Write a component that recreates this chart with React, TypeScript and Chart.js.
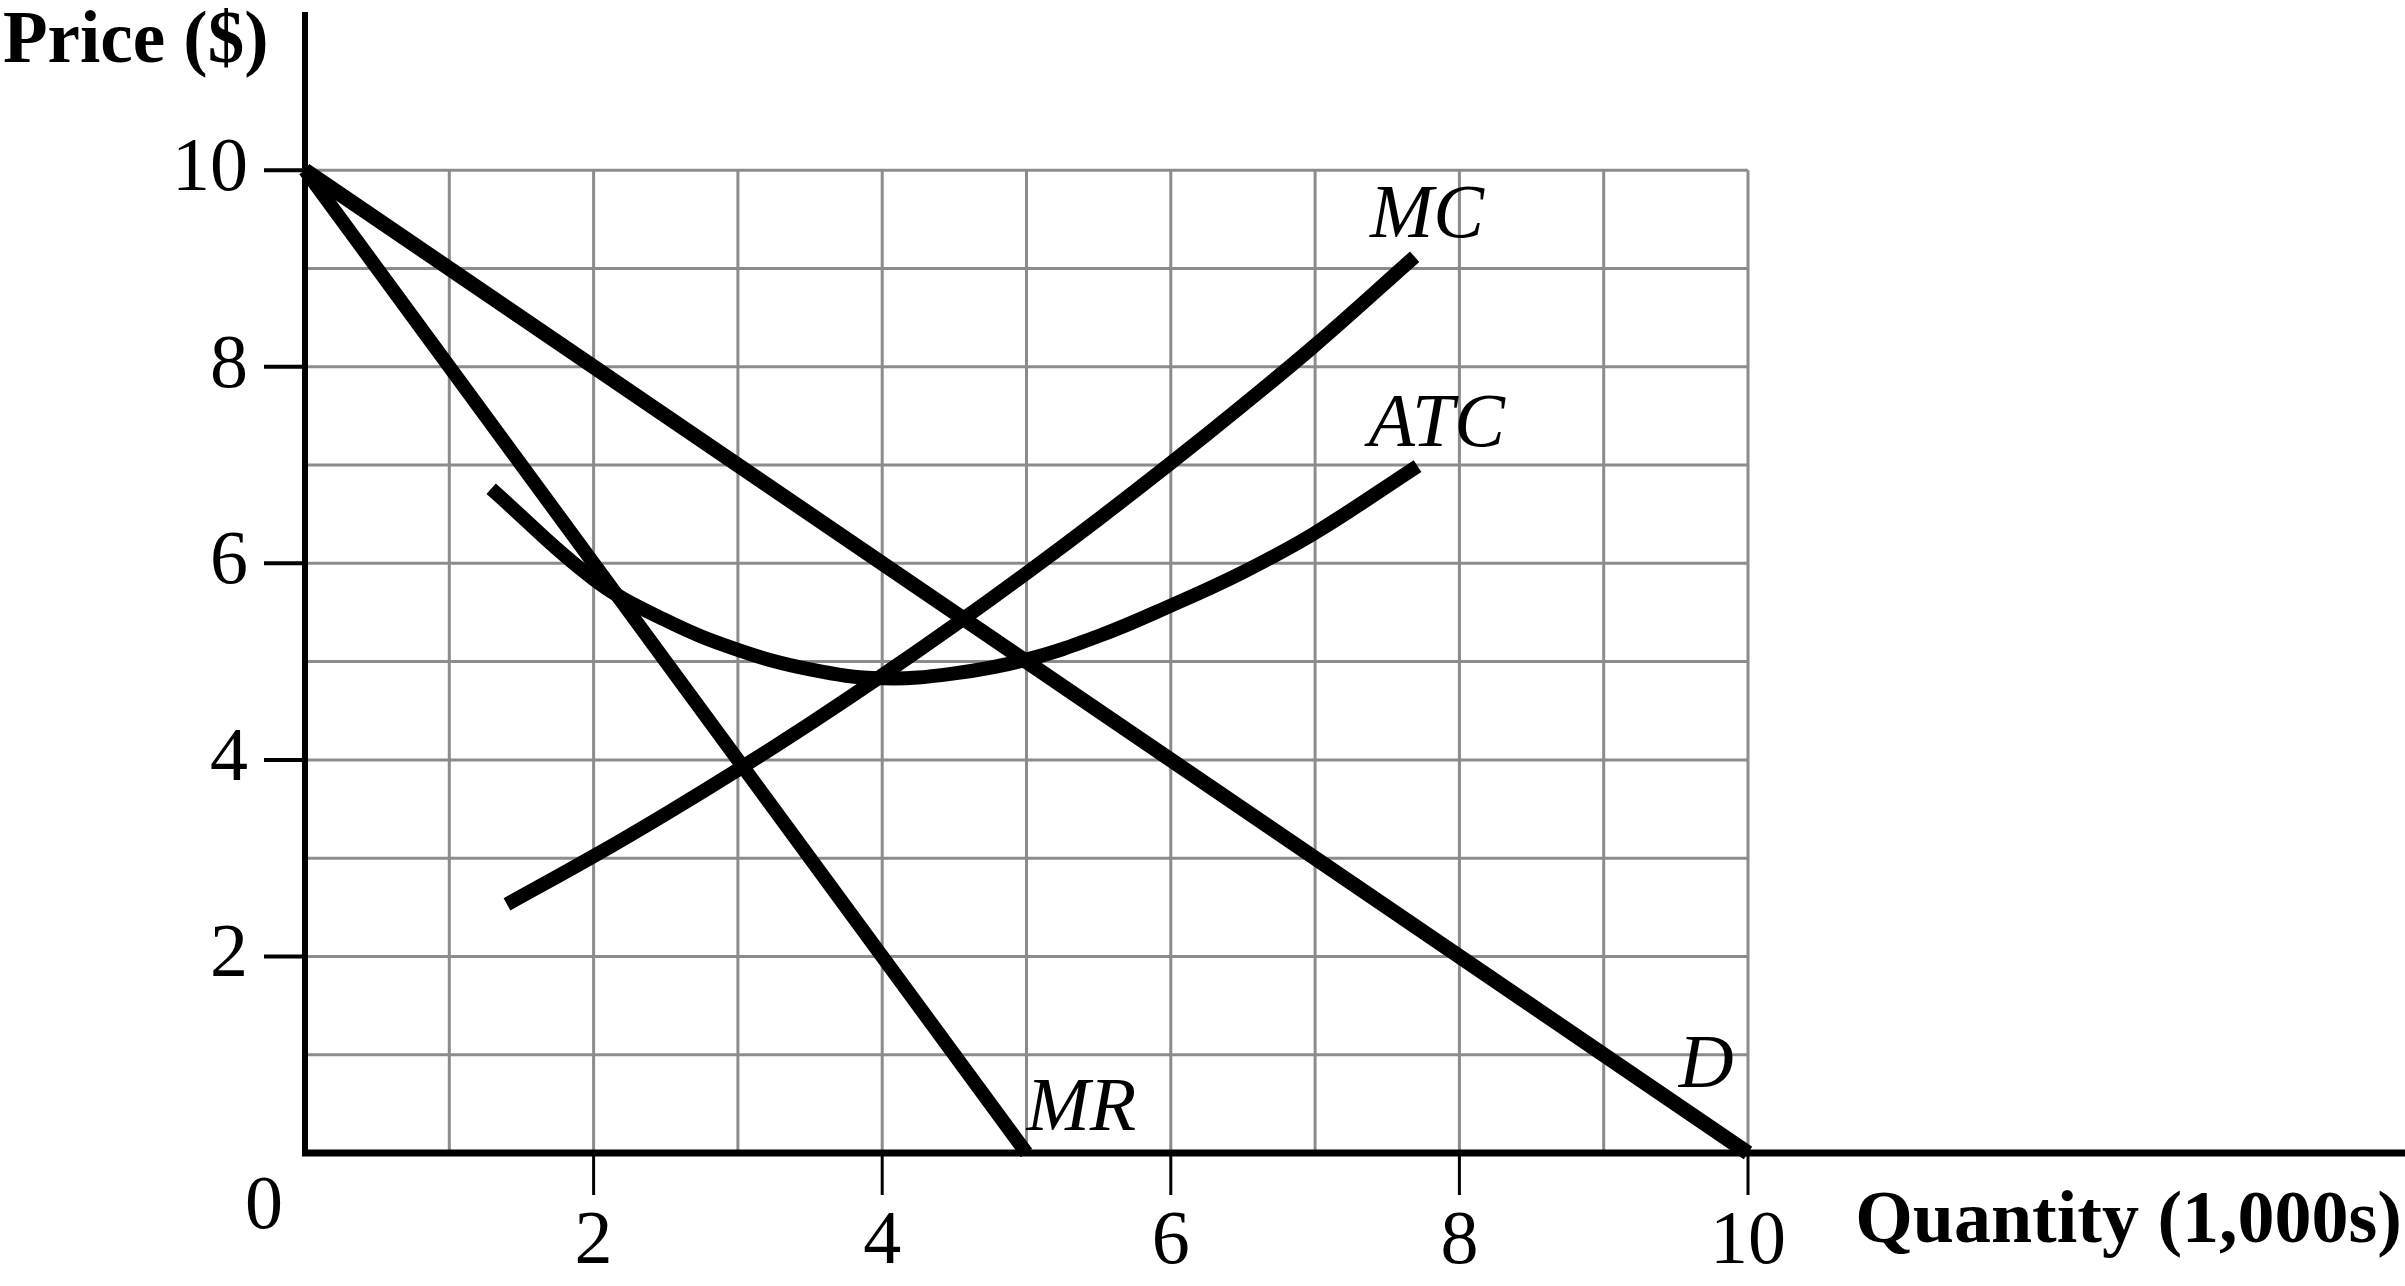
import React, { useEffect, useRef } from "react";
import { Chart, registerables } from "chart.js";

Chart.register(...registerables);

// ---- data ----
const qD = [0, 10];
const pD = [10, 0];
const qMR = [0, 5];
const pMR = [10, 0];
const qMC = [1.4, 2, 2.5, 3, 3.5, 4, 4.5, 5, 5.5, 6, 6.5, 7, 7.69];
const pMC = [2.53, 3.02, 3.45, 3.9, 4.37, 4.86, 5.37, 5.9, 6.45, 7.02, 7.61, 8.22, 9.12];
const qATC = [1.29, 2, 2.5, 3, 3.5, 4, 4.5, 5, 5.5, 6, 6.5, 7, 7.71];
const pATC = [6.76, 5.84, 5.42, 5.12, 4.92, 4.83, 4.88, 5.02, 5.26, 5.57, 5.91, 6.31, 6.99];

const gridQ = [1, 2, 3, 4, 5, 6, 7, 8, 9, 10];
const gridP = [1, 2, 3, 4, 5, 6, 7, 8, 9, 10];
const tickQ = [2, 4, 6, 8, 10];
const tickP = [2, 4, 6, 8, 10];

const curveLabels = [
  { text: "MC", q: 7.38, p: 9.32 },
  { text: "ATC", q: 7.37, p: 7.19 },
  { text: "MR", q: 5.0, p: 0.23 },
  { text: "D", q: 9.52, p: 0.67 },
];

const yTitle = "Price ($)";
const xTitle = "Quantity (1,000s)";

const W = 2405;
const H = 1286;
const SERIF = '"Liberation Serif", "Times New Roman", serif';

const zip = (xs: number[], ys: number[]) => xs.map((x, i) => ({ x, y: ys[i] }));

const econPlugin = {
  id: "econ",
  beforeDatasetsDraw(chart: any) {
    const { ctx, scales } = chart;
    const x = scales.x;
    const y = scales.y;
    ctx.save();
    ctx.strokeStyle = "#8c8c8c";
    ctx.lineWidth = 3;
    for (const q of gridQ) {
      const px = x.getPixelForValue(q);
      ctx.beginPath();
      ctx.moveTo(px, y.getPixelForValue(0));
      ctx.lineTo(px, y.getPixelForValue(10));
      ctx.stroke();
    }
    for (const p of gridP) {
      const py = y.getPixelForValue(p);
      ctx.beginPath();
      ctx.moveTo(x.getPixelForValue(0), py);
      ctx.lineTo(x.getPixelForValue(10), py);
      ctx.stroke();
    }
    ctx.restore();
  },
  afterDatasetsDraw(chart: any) {
    const { ctx, scales } = chart;
    const x = scales.x;
    const y = scales.y;
    const x0 = x.getPixelForValue(0);
    const y0 = y.getPixelForValue(0);
    ctx.save();
    ctx.strokeStyle = "#000";
    // axes
    ctx.lineWidth = 6;
    ctx.beginPath();
    ctx.moveTo(x0, y.getPixelForValue(y.max));
    ctx.lineTo(x0, y0 + 3);
    ctx.stroke();
    ctx.lineWidth = 7;
    ctx.beginPath();
    ctx.moveTo(x0 - 3, y0);
    ctx.lineTo(chart.width, y0);
    ctx.stroke();
    // ticks
    ctx.lineWidth = 4;
    for (const p of tickP) {
      const py = y.getPixelForValue(p);
      ctx.beginPath();
      ctx.moveTo(x0 - 41, py);
      ctx.lineTo(x0, py);
      ctx.stroke();
    }
    ctx.lineWidth = 3;
    for (const q of tickQ) {
      const px = x.getPixelForValue(q);
      ctx.beginPath();
      ctx.moveTo(px, y0);
      ctx.lineTo(px, y0 + 42);
      ctx.stroke();
    }
    // tick labels
    ctx.fillStyle = "#000";
    ctx.font = `76px ${SERIF}`;
    ctx.textAlign = "right";
    ctx.textBaseline = "middle";
    for (const p of tickP) {
      ctx.fillText(String(p), x0 - 57, y.getPixelForValue(p));
    }
    ctx.textAlign = "center";
    ctx.textBaseline = "alphabetic";
    for (const q of tickQ) {
      ctx.fillText(String(q), x.getPixelForValue(q), y0 + 110);
    }
    ctx.fillText("0", x0 - 41, y0 + 75);
    // curve labels
    ctx.font = `italic 76px ${SERIF}`;
    ctx.textAlign = "left";
    for (const l of curveLabels) {
      ctx.fillText(l.text, x.getPixelForValue(l.q), y.getPixelForValue(l.p));
    }
    // axis titles
    ctx.font = `bold 73px ${SERIF}`;
    ctx.textAlign = "left";
    ctx.fillText(yTitle, 3, 62);
    ctx.font = `bold 74px ${SERIF}`;
    ctx.textAlign = "right";
    ctx.fillText(xTitle, W - 3, y0 + 89);
    ctx.restore();
  },
};

export default function App() {
  const ref = useRef<HTMLCanvasElement | null>(null);
  useEffect(() => {
    if (!ref.current) return;
    const lineDs = (label: string, data: any[], width: number) => ({
      label,
      data,
      showLine: true,
      borderColor: "#000",
      borderWidth: width,
      pointRadius: 0,
      fill: false,
      tension: 0.4,
      borderCapStyle: "butt" as const,
      borderJoinStyle: "round" as const,
      clip: false as any,
    });
    const chart = new Chart(ref.current, {
      type: "scatter",
      data: {
        datasets: [
          lineDs("D", zip(qD, pD), 15),
          lineDs("MR", zip(qMR, pMR), 14),
          lineDs("MC", zip(qMC, pMC), 14),
          lineDs("ATC", zip(qATC, pATC), 14),
        ] as any,
      },
      options: {
        animation: false,
        responsive: false,
        devicePixelRatio: 1,
        layout: { padding: { left: 305, right: 0, top: 12, bottom: H - 1153 } },
        plugins: { legend: { display: false }, tooltip: { enabled: false } },
        events: [],
        scales: {
          x: { type: "linear", min: 0, max: 14.553, display: false },
          y: { type: "linear", min: 0, max: 11.61, display: false },
        },
      },
      plugins: [econPlugin],
    });
    return () => chart.destroy();
  }, []);
  return (
    <div style={{ position: "fixed", left: 0, top: 0, width: W, height: H, background: "#fff" }}>
      <canvas ref={ref} width={W} height={H} style={{ width: W, height: H, display: "block" }} />
    </div>
  );
}
